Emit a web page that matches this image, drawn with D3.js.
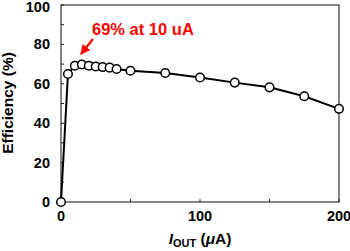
<!DOCTYPE html>
<html>
<head>
<meta charset="utf-8">
<script src="https://cdn.jsdelivr.net/npm/d3@7"></script>
<style>
  body { margin: 0; background: #fff; }
  svg { display: block; font-family: Arial, "Liberation Sans", sans-serif; }
</style>
</head>
<body>
<svg id="chart" width="350" height="251"></svg>
<script>
// values
let iout = [0, 5, 10, 15, 20, 25, 30, 35, 40, 50, 75, 100, 125, 150, 175, 200];
let efficiency = [0, 65, 69.2, 69.8, 69.2, 68.8, 68.5, 68.2, 67.5, 66.6, 65.5, 63.2, 60.6, 58.2, 53.7, 47.3];
let xTicks = [0, 100, 200];
let xMinor = [50, 150];
let yTicks = [0, 20, 40, 60, 80, 100];
let yMinor = [10, 30, 50, 70, 90];
let note = '69% at 10 uA';

let svg = d3.select('svg#chart');
let x = d3.scaleLinear().domain([0, 200]).range([61, 339]);
let y = d3.scaleLinear().domain([0, 100]).range([202, 5]);

// frame
svg.append('rect')
    .attr('x', x(0)).attr('y', y(100))
    .attr('width', x(200) - x(0)).attr('height', y(0) - y(100))
    .attr('fill', 'none').attr('stroke', '#444').attr('stroke-width', 1.3);

// inner ticks
svg.selectAll('line.ytick')
    .data(yTicks.concat(yMinor))
    .enter().append('line')
    .attr('x1', x(0)).attr('x2', x(0) + 3)
    .attr('y1', d => y(d)).attr('y2', d => y(d))
    .attr('stroke', '#222').attr('stroke-width', 1);
svg.selectAll('line.xtick')
    .data(xTicks.concat(xMinor))
    .enter().append('line')
    .attr('x1', d => x(d)).attr('x2', d => x(d))
    .attr('y1', y(0)).attr('y2', y(0) - 3)
    .attr('stroke', '#222').attr('stroke-width', 1);

// tick labels
svg.selectAll('text.ylab')
    .data(yTicks)
    .enter().append('text')
    .attr('x', 50).attr('y', d => Math.max(y(d) + 5, 12))
    .attr('text-anchor', 'end')
    .attr('font-size', 14.5).attr('font-weight', 'bold')
    .text(d => d);
svg.selectAll('text.xlab')
    .data(xTicks)
    .enter().append('text')
    .attr('x', d => x(d)).attr('y', 221)
    .attr('text-anchor', 'middle')
    .attr('font-size', 14.5).attr('font-weight', 'bold')
    .text(d => d);

// axis titles
svg.append('text')
    .attr('transform', 'translate(13,103) rotate(-90)')
    .attr('text-anchor', 'middle')
    .attr('font-size', 15.5).attr('font-weight', 'bold')
    .text('Efficiency (%)');

let xt = svg.append('text')
    .attr('x', 200).attr('y', 244)
    .attr('text-anchor', 'middle')
    .attr('font-size', 15.5).attr('font-weight', 'bold');
xt.append('tspan').attr('font-style', 'italic').text('I');
xt.append('tspan').attr('font-size', 11).attr('dy', 3).text('OUT');
xt.append('tspan').attr('dy', -3).text(' (');
xt.append('tspan').attr('font-style', 'italic').text('\u03bc');
xt.append('tspan').text('A)');

// line + markers
let line = d3.line().x((d, i) => x(iout[i])).y(d => y(d));
svg.append('path')
    .attr('d', line(efficiency))
    .attr('fill', 'none').attr('stroke', '#000').attr('stroke-width', 2);

svg.selectAll('circle')
    .data(efficiency)
    .enter().append('circle')
    .attr('cx', (d, i) => x(iout[i]))
    .attr('cy', d => y(d))
    .attr('r', 4.3)
    .attr('fill', '#fff').attr('stroke', '#000').attr('stroke-width', 1.5);

// annotation
svg.append('defs').append('marker')
    .attr('id', 'head')
    .attr('viewBox', '0 0 10 10')
    .attr('refX', 9).attr('refY', 5)
    .attr('markerWidth', 4.5).attr('markerHeight', 4.5)
    .attr('orient', 'auto')
    .append('path').attr('d', 'M0,0 L10,5 L0,10 z').attr('fill', '#f00');

svg.append('line')
    .attr('x1', 93).attr('y1', 39)
    .attr('x2', 81).attr('y2', 54)
    .attr('stroke', '#f00').attr('stroke-width', 2.2)
    .attr('marker-end', 'url(#head)');

svg.append('text')
    .attr('x', 92).attr('y', 35)
    .attr('fill', '#f00')
    .attr('font-size', 16.5).attr('font-weight', 'bold')
    .text(note);
</script>
</body>
</html>
